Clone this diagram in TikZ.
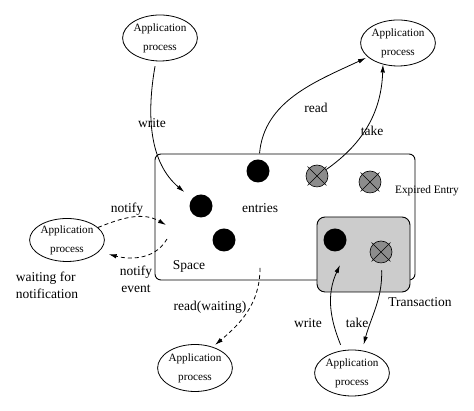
\documentclass[tikz,border=0pt]{standalone}
\usepackage{fontspec}
\setmainfont{Liberation Serif}
\usepackage{xcolor}
\usepackage{tikz}
\usetikzlibrary{shapes.geometric, arrows.meta}

\definecolor{txgray}{gray}{0.80}
\definecolor{xgray}{gray}{0.55}

\begin{document}
\begin{tikzpicture}[x=1pt, y=1pt,
    process/.style={ellipse, draw=black, line width=0.8pt,
                    minimum width=70pt, minimum height=46pt, inner sep=0pt,
                    align=center, font=\fontsize{11.2}{19}\selectfont},
    entry/.style={circle, fill=black, minimum size=23pt, inner sep=0pt},
    expired/.style={circle, draw=black, fill=xgray, line width=0.6pt,
                    minimum size=22pt, inner sep=0pt},
    lbl/.style={font=\fontsize{13.5}{17}\selectfont, inner sep=0pt},
    arrow/.style={-{Latex[length=8pt, width=4.5pt]}, line width=0.8pt},
    waits/.style={arrow, dash pattern=on 4pt off 3pt}
]
\useasboundingbox (0,0) rectangle (474,411);

% --- Space and transaction ---
\node (space) [draw, line width=0.9pt, rounded corners=6pt, minimum width=260pt,
               minimum height=126pt, inner sep=0pt] at (285,194) {};
\node (trans) [draw, fill=txgray, line width=0.9pt, rounded corners=8pt,
               minimum width=93pt, minimum height=75pt, inner sep=0pt] at (363.5,156.5) {};

% --- Entries ---
\node (d0) [entry] at (258,240) {};
\node (d1) [entry] at (201,205) {};
\node (d2) [entry] at (224,171) {};
\node (d3) [entry] at (335,171) {};
\node (x0) [expired] at (317,235) {};
\node (x1) [expired] at (370,229) {};
\node (x2) [expired] at (381,159) {};
\foreach \n in {x0,x1,x2}
    \draw [line width=0.6pt] (\n.center) +(-9.5,-9.5) -- +(9.5,9.5) +(-9.5,9.5) -- +(9.5,-9.5);

% --- Application processes ---
\node (e1) [process] at (160,373) {Application\\process};
\node (e2) [process] at (398,368) {Application\\process};
\node (e3) [process, minimum height=43pt] at (67,171) {Application\\process};
\node (e4) [process, minimum height=47pt] at (195,43) {Application\\process};
\node (e5) [process] at (352,38) {Application\\process};

% --- Free ends ---
\coordinate (ntf) at (166,186);
\coordinate (nev) at (167,172);
\coordinate (rw) at (260,143);
\coordinate (trin) at (340,146);

% --- Arrows ---
\draw [arrow, shorten <=5pt, shorten >=10pt] (e1) to[out=-100, in=140] (d1);
\draw [arrow, shorten <=6pt, shorten >=2pt] (d0) to[out=85, in=205] (e2);
\draw [arrow] (x0) to[out=35, in=-92] (e2.235);
\draw [waits] (e3) to[out=22, in=150] (ntf);
\draw [waits, shorten >=10pt] (nev) to[out=-120, in=-15] (e3.-20);
\draw [waits, shorten >=3pt] (rw) to[out=-90, in=40] (e4.50);
\draw [arrow, shorten <=6pt] (e5.112) to[out=112, in=-115] (trin);
\draw [arrow, shorten <=7pt, shorten >=6pt] (x2) to[out=-88, in=75] (e5.66);

% --- Labels ---
\node (lwr1) [lbl] at (152,288) {write};
\node (lrd) [lbl] at (316,303) {read};
\node (ltk1) [lbl] at (372,280) {take};
\node (lent) [lbl] at (260,203) {entries};
\node (lexp) [lbl, font=\fontsize{11.3}{13}\selectfont] at (427,220) {Expired Entry};
\node (lntf) [lbl] at (127,202) {notify};
\node (lnev) [lbl, align=center] at (136,131.5) {notify\\event};
\node (lspc) [lbl] at (189,145) {Space};
\node (lwait) [lbl, align=left] at (47,125.5) {waiting for\\notification};
\node (lrw) [lbl] at (210,104) {read(waiting)};
\node (lwr2) [lbl] at (308,88) {write};
\node (ltk2) [lbl] at (357,88) {take};
\node (ltx) [lbl] at (420,109) {Transaction};
\end{tikzpicture}
\end{document}
